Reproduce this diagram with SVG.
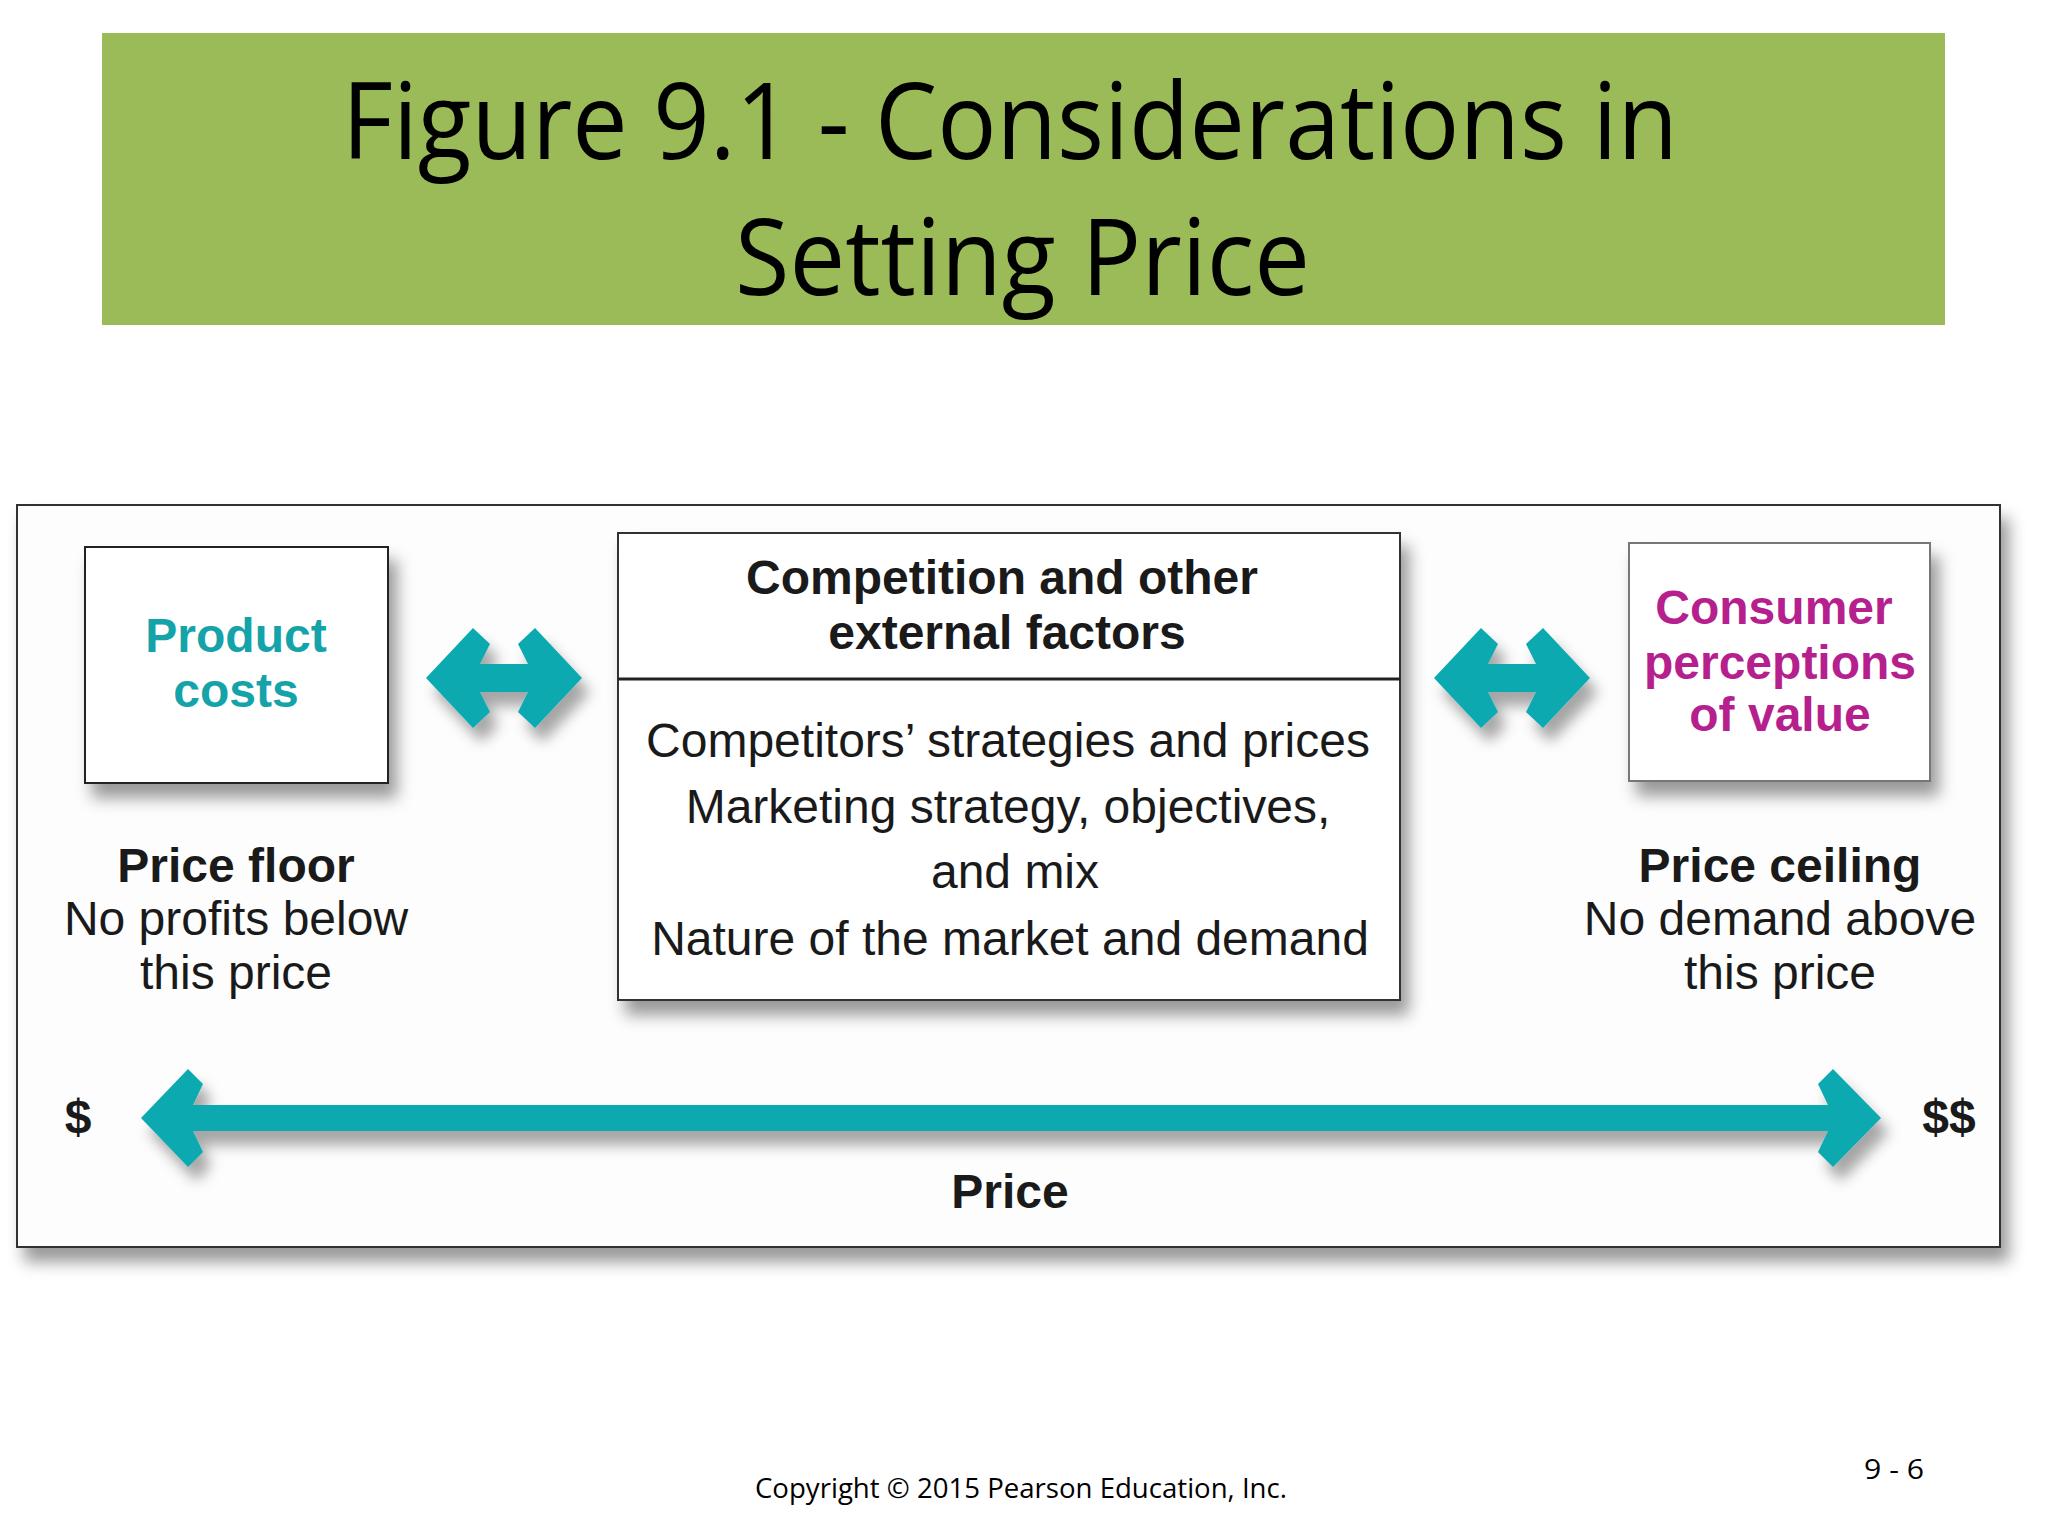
<svg xmlns="http://www.w3.org/2000/svg" width="2048" height="1536" viewBox="0 0 2048 1536">
<defs>
<filter id="sh" x="-20%" y="-20%" width="150%" height="160%">
<feDropShadow dx="8" dy="14" stdDeviation="8" flood-color="#000" flood-opacity="0.4"/>
</filter>
<filter id="shs" x="-20%" y="-30%" width="150%" height="180%">
<feDropShadow dx="8" dy="14" stdDeviation="7" flood-color="#000" flood-opacity="0.35"/>
</filter>
<path id="dbl" d="M-78,0 L-31,-50 L-14,-34 L-24,-14 L24,-14 L14,-34 L31,-50 L78,0 L31,50 L14,34 L24,14 L-24,14 L-14,34 L-31,50 Z"/>
<style>
.t{font-family:"Liberation Sans",Arial,sans-serif;font-size:48px;fill:#1a1a1a;text-anchor:middle}
.b{font-weight:bold}
.teal{fill:#14a3a9}
.mag{fill:#b51f8e}
.ttl{font-family:"Open Sans","Noto Sans",sans-serif;font-size:106px;fill:#000}
.ft{font-family:"Open Sans","Noto Sans",sans-serif;font-size:28px;fill:#000}
.arrow{fill:#0ba9b0}
</style>
</defs>
<rect width="2048" height="1536" fill="#fff"/>
<g id="title">
<rect x="102" y="33" width="1843" height="292" fill="#9bbb59"/>
<text class="ttl" x="342" y="159" textLength="1336" lengthAdjust="spacingAndGlyphs">Figure 9.1 - Considerations in</text>
<text class="ttl" x="735" y="295" textLength="575" lengthAdjust="spacingAndGlyphs">Setting Price</text>
</g>
<g id="panel">
<rect x="17" y="505" width="1983" height="742" fill="#fdfdfd" stroke="#333" stroke-width="2" filter="url(#sh)"/>
</g>
<g id="node-product-costs">
<rect x="85" y="547" width="303" height="236" fill="#fff" stroke="#222" stroke-width="2" filter="url(#sh)"/>
<text class="t b teal" x="236" y="652">Product</text>
<text class="t b teal" x="236" y="707">costs</text>
</g>
<g id="node-competition">
<rect x="618" y="533" width="782" height="467" fill="#fff" stroke="#333" stroke-width="2" filter="url(#sh)"/>
<line x1="618" y1="679" x2="1400" y2="679" stroke="#222" stroke-width="3"/>
<text class="t b" x="1002" y="594">Competition and other</text>
<text class="t b" x="1007" y="649">external factors</text>
<text class="t" x="1008" y="757">Competitors’ strategies and prices</text>
<text class="t" x="1008" y="823">Marketing strategy, objectives,</text>
<text class="t" x="1015" y="888">and mix</text>
<text class="t" x="1010" y="955">Nature of the market and demand</text>
</g>
<g id="node-consumer">
<rect x="1629" y="543" width="301" height="238" fill="#fff" stroke="#777" stroke-width="2" filter="url(#sh)"/>
<text class="t b mag" x="1774" y="624">Consumer</text>
<text class="t b mag" x="1780" y="679">perceptions</text>
<text class="t b mag" x="1780" y="731">of value</text>
</g>
<g id="label-floor">
<text class="t b" x="236" y="882">Price floor</text>
<text class="t" x="236" y="935">No profits below</text>
<text class="t" x="236" y="989">this price</text>
</g>
<g id="label-ceiling">
<text class="t b" x="1780" y="882">Price ceiling</text>
<text class="t" x="1780" y="935">No demand above</text>
<text class="t" x="1780" y="989">this price</text>
</g>
<g id="connectors">
<use href="#dbl" class="arrow" transform="translate(504,678)" filter="url(#shs)"/>
<use href="#dbl" class="arrow" transform="translate(1512,678)" filter="url(#shs)"/>
<path class="arrow" filter="url(#shs)" d="M141,1118 L188,1069 L203,1084 L193,1105 L1828,1105 L1818,1084 L1833,1069 L1881,1118 L1833,1167 L1818,1152 L1828,1131 L193,1131 L203,1152 L188,1167 Z"/>
</g>
<g id="axis-labels">
<text class="t b" x="78" y="1133">$</text>
<text class="t b" x="1949" y="1133">$$</text>
<text class="t b" x="1010" y="1208">Price</text>
</g>
<g id="footer">
<text class="ft" x="755" y="1498" textLength="532" lengthAdjust="spacingAndGlyphs">Copyright © 2015 Pearson Education, Inc.</text>
<text class="ft" x="1864" y="1479" textLength="60" lengthAdjust="spacingAndGlyphs">9 - 6</text>
</g>
</svg>
